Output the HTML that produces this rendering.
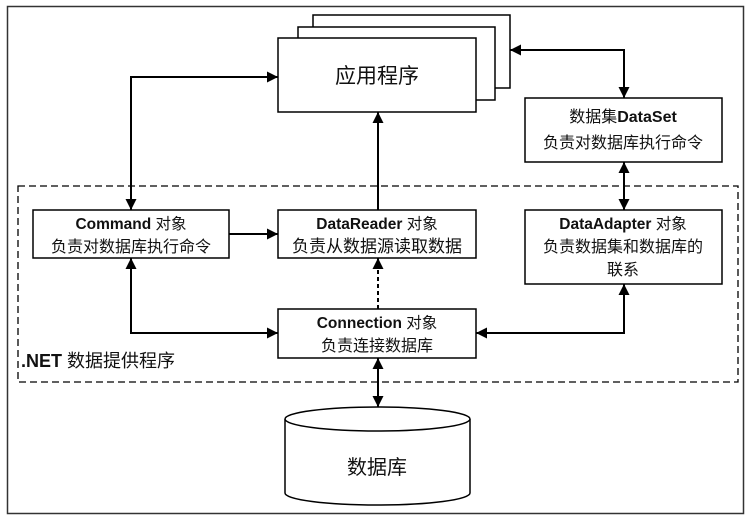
<!DOCTYPE html>
<html><head><meta charset="utf-8"><style>
html,body{margin:0;padding:0;background:#fff}
svg{display:block}
text{font-family:"Liberation Sans","Noto Sans CJK SC",sans-serif;fill:#111}
</style></head><body>
<svg width="751" height="521" viewBox="0 0 751 521" xmlns="http://www.w3.org/2000/svg">
<defs>
<marker id="a" viewBox="0 0 10 10" refX="10" refY="5" markerWidth="11" markerHeight="11" markerUnits="userSpaceOnUse" orient="auto-start-reverse"><path d="M0,0 L10,5 L0,10 z" fill="#000"/></marker>
</defs>
<rect x="7.5" y="6.5" width="736" height="507" fill="#fff" stroke="#333" stroke-width="1.5"/>
<rect x="313" y="15" width="197" height="73" fill="#fff" stroke="#000" stroke-width="1.5"/>
<rect x="298" y="27" width="197" height="73" fill="#fff" stroke="#000" stroke-width="1.5"/>
<rect x="278" y="38" width="198" height="74" fill="#fff" stroke="#000" stroke-width="1.5"/>
<text x="377" y="83" font-size="21" text-anchor="middle">应用程序</text>
<rect x="525" y="98" width="197" height="64" fill="#fff" stroke="#000" stroke-width="1.5"/>
<text x="623" y="122" font-size="16" text-anchor="middle">数据集<tspan font-weight="bold">DataSet</tspan></text>
<text x="623" y="148" font-size="16" text-anchor="middle">负责对数据库执行命令</text>
<rect x="18" y="186" width="720" height="196" fill="none" stroke="#000" stroke-width="1.3" stroke-dasharray="7,4"/>
<text x="21" y="367" font-size="18"><tspan font-weight="bold">.NET</tspan> 数据提供程序</text>
<rect x="33" y="210" width="196" height="48" fill="#fff" stroke="#000" stroke-width="1.5"/>
<text x="131" y="229" font-size="15.5" text-anchor="middle"><tspan font-weight="bold">Command</tspan> 对象</text>
<text x="131" y="252" font-size="16" text-anchor="middle">负责对数据库执行命令</text>
<rect x="278" y="210" width="198" height="48" fill="#fff" stroke="#000" stroke-width="1.5"/>
<text x="377" y="229" font-size="15.5" text-anchor="middle"><tspan font-weight="bold">DataReader</tspan> 对象</text>
<text x="377" y="252" font-size="17" text-anchor="middle">负责从数据源读取数据</text>
<rect x="525" y="210" width="197" height="74" fill="#fff" stroke="#000" stroke-width="1.5"/>
<text x="623" y="229" font-size="15.5" text-anchor="middle"><tspan font-weight="bold">DataAdapter</tspan> 对象</text>
<text x="623" y="252" font-size="16" text-anchor="middle">负责数据集和数据库的</text>
<text x="623" y="275" font-size="16" text-anchor="middle">联系</text>
<rect x="278" y="309" width="198" height="49" fill="#fff" stroke="#000" stroke-width="1.5"/>
<text x="377" y="328" font-size="15.5" text-anchor="middle"><tspan font-weight="bold">Connection</tspan> 对象</text>
<text x="377" y="351" font-size="16" text-anchor="middle">负责连接数据库</text>
<path d="M285,419 L285,493 A92.5,12 0 0 0 470,493 L470,419" fill="#fff" stroke="#000" stroke-width="1.5"/>
<ellipse cx="377.5" cy="419" rx="92.5" ry="12" fill="#fff" stroke="#000" stroke-width="1.5"/>
<text x="377" y="474" font-size="20" text-anchor="middle">数据库</text>
<g stroke="#000" stroke-width="2" fill="none">
<path d="M131,210 L131,77 L278,77" marker-start="url(#a)" marker-end="url(#a)"/>
<path d="M229,234 L278,234" marker-end="url(#a)"/>
<path d="M378,210 L378,112" marker-end="url(#a)"/>
<path d="M510,50 L624,50 L624,98" marker-start="url(#a)" marker-end="url(#a)"/>
<path d="M624,162 L624,210" marker-start="url(#a)" marker-end="url(#a)"/>
<path d="M131,258 L131,333 L278,333" marker-start="url(#a)" marker-end="url(#a)"/>
<path d="M624,284 L624,333 L476,333" marker-start="url(#a)" marker-end="url(#a)"/>
<path d="M378,309 L378,258" stroke-dasharray="4,3" marker-end="url(#a)"/>
<path d="M378,358 L378,407" marker-start="url(#a)" marker-end="url(#a)"/>
</g>
</svg>
</body></html>
